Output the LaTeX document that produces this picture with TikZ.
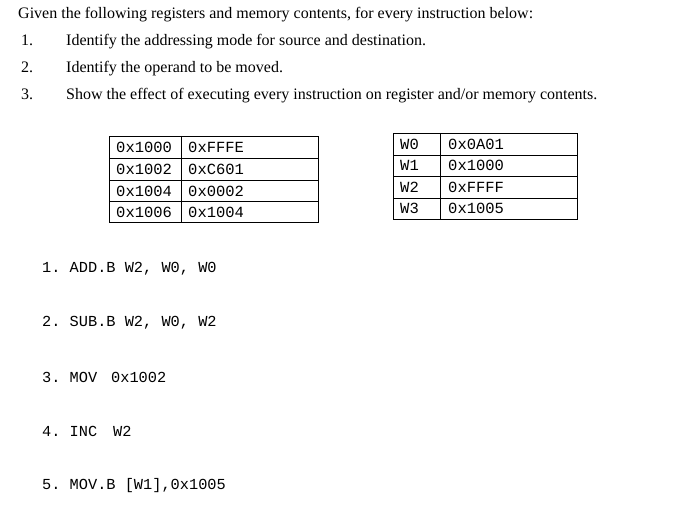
\documentclass[tikz,border=0pt]{standalone}
\usepackage{fontspec}
\setmainfont{Liberation Serif}
\setmonofont{Liberation Mono}
\begin{document}
\begin{tikzpicture}[x=1pt,y=-1pt,
  hdr/.style={anchor=base west,inner sep=0,font=\fontsize{16}{18}\selectfont},
  code/.style={anchor=west,inner sep=0,font=\fontsize{15.3}{17}\ttfamily},
  cell/.style={anchor=west,inner sep=0,font=\fontsize{15.5}{17}\ttfamily},
  grid/.style={draw=black,line width=0.8pt}]
\useasboundingbox[fill=white] (0,0) rectangle (673,518);
\node[hdr] (t0) at (18,19) {Given the following registers and memory contents, for every instruction below:};
\node[hdr] (n1) at (21,46) {1.}; \node[hdr] (l1) at (66,46) {Identify the addressing mode for source and destination.};
\node[hdr] (n2) at (21,73) {2.}; \node[hdr] (l2) at (66,73) {Identify the operand to be moved.};
\node[hdr] (n3) at (21,100) {3.}; \node[hdr] (l3) at (66,100) {Show the effect of executing every instruction on register and/or memory contents.};
% memory table
\draw[grid] (109,136) rectangle (318,222);
\foreach \y in {158,180,201} \draw[grid] (109,\y) -- (318,\y);
\draw[grid] (181,136) -- (181,222);
\foreach \a/\b/\y [count=\i] in {0x1000/0xFFFE/147,0x1002/0xC601/169,0x1004/0x0002/191,0x1006/0x1004/212}{
  \node[cell] (ma\i) at (116,\y) {\a};
  \node[cell] (mb\i) at (188,\y) {\b};}
% register table
\draw[grid] (393,133) rectangle (577,219);
\foreach \y in {155,176,198} \draw[grid] (393,\y) -- (577,\y);
\draw[grid] (440,133) -- (440,219);
\foreach \a/\b/\y [count=\i] in {W0/0x0A01/144,W1/0x1000/165,W2/0xFFFF/187,W3/0x1005/208}{
  \node[cell] (ra\i) at (400,\y) {\a};
  \node[cell] (rb\i) at (448,\y) {\b};}
\node[code] (i1) at (42,269) {1. ADD.B W2, W0, W0};
\node[code] (i2) at (42,323) {2. SUB.B W2, W0, W2};
\node[code] (i3) at (42,377) {3. MOV};
\node[code] (i3b) at (111,377) {0x1002};
\node[code] (i4) at (42,431) {4. INC};
\node[code] (i4b) at (113,431) {W2};
\node[code] (i5) at (42,486) {5. MOV.B [W1],0x1005};
\end{tikzpicture}
\end{document}
